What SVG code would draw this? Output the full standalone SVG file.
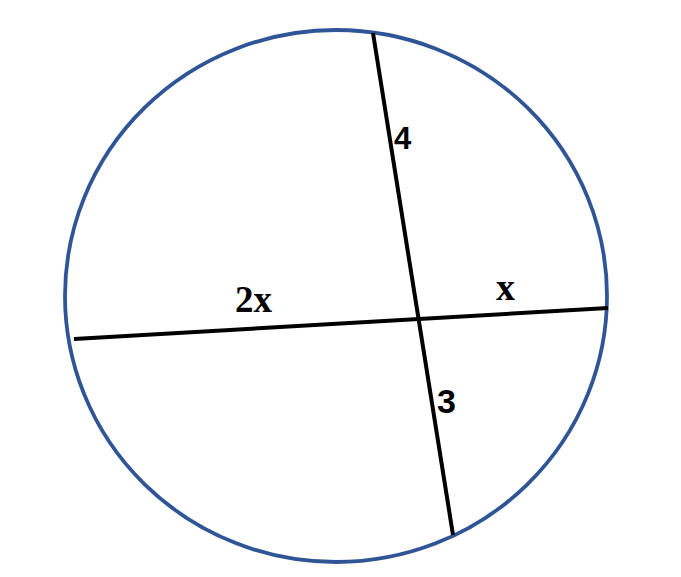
<svg xmlns="http://www.w3.org/2000/svg" width="681" height="577" viewBox="0 0 681 577">
<style>
.circle{fill:none;stroke:#2F5597;stroke-width:3.8}
.chord{stroke:#000;stroke-width:4;stroke-linecap:butt}
.lbl{font-family:"Liberation Serif",serif;font-weight:bold;fill:#000}
.num{font-family:"Liberation Sans",Arial,sans-serif;font-weight:bold;fill:#000}
</style>
<rect width="681" height="577" fill="#fff"/>
<g id="circle"><ellipse class="circle" cx="336" cy="296" rx="271" ry="266"/></g>
<g id="connectors">
<line class="chord" x1="373" y1="33" x2="453" y2="535"/>
<line class="chord" x1="74" y1="339" x2="608" y2="308"/>
</g>
<g id="labels">
<text class="num" x="394" y="149" font-size="31">4</text>
<text class="num" x="437" y="413" font-size="34">3</text>
<text class="lbl" x="235" y="312" font-size="37">2x</text>
<text class="lbl" x="496" y="300" font-size="38">x</text>
</g>
</svg>
